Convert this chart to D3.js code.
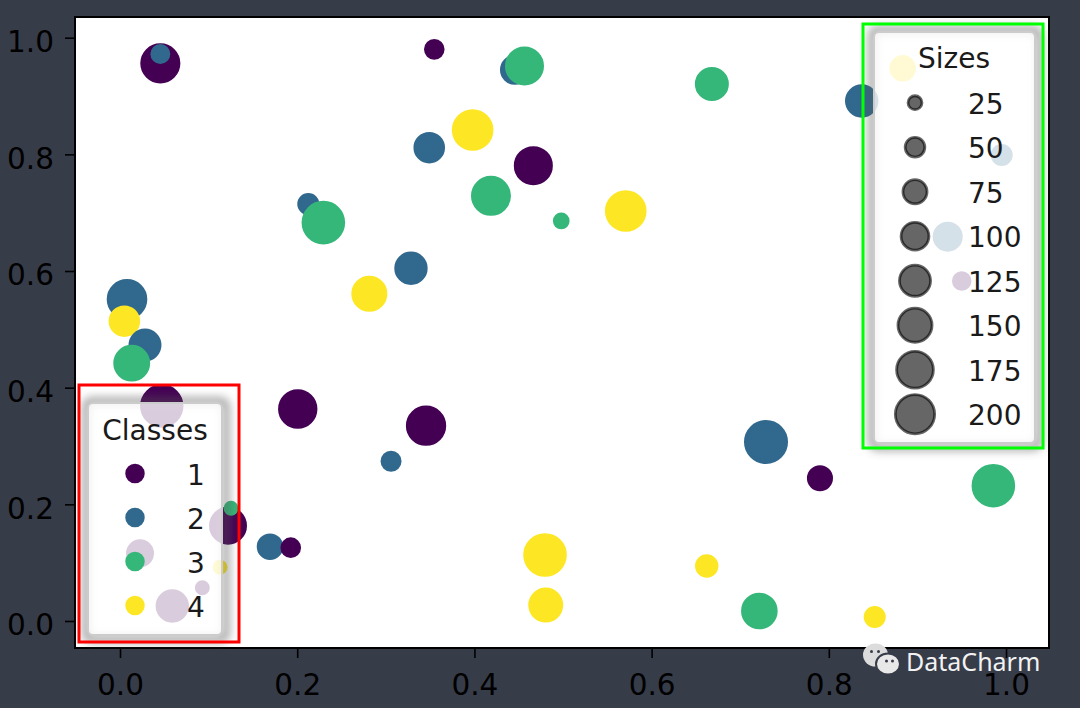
<!DOCTYPE html>
<html>
<head>
<meta charset="utf-8">
<script src="https://cdn.jsdelivr.net/npm/d3@7"></script>
<style>
  html, body { margin: 0; padding: 0; background: #373c49; }
  svg { display: block; }
  .tick text { font-family: "DejaVu Sans", sans-serif; font-size: 29.5px; fill: #000; }
  .legend text { font-family: "DejaVu Sans", sans-serif; font-size: 28px; fill: #1a1a1a; }
</style>
</head>
<body>
<div id="chart"></div>
<script>
// point data
var xValues = [0.0455, 0.0455, 0.2125, 0.2295, 0.0079, 0.0049, 0.0282, 0.0132, 0.2814, 0.3547,
               0.4458, 0.4565, 0.668, 0.398, 0.349, 0.4665, 0.4187, 0.498, 0.5708, 0.3284,
               0.8834, 0.8371, 0.9951, 0.9342, 0.950, 0.7291, 0.790, 0.9857, 0.7216, 0.8518,
               0.3454, 0.3059, 0.4797, 0.4805, 0.6622, 0.0471, 0.2006, 0.0226, 0.1219, 0.1253,
               0.1693, 0.1927, 0.1129, 0.0929, 0.059];
var yValues = [0.956, 0.972, 0.715, 0.683, 0.5515, 0.514, 0.473, 0.442, 0.561, 0.980,
               0.945, 0.9515, 0.9206, 0.8418, 0.8114, 0.7806, 0.729, 0.6858, 0.703, 0.6047,
               0.9475, 0.8915, 0.799, 0.6588, 0.5829, 0.3069, 0.2446, 0.232, 0.0171, 0.0069,
               0.3348, 0.2738, 0.1131, 0.0274, 0.0943, 0.3686, 0.3635, 0.1161, 0.1634, 0.1932,
               0.1274, 0.1257, 0.0921, 0.0571, 0.0257];
var classValues = [1, 2, 2, 3, 2, 4, 2, 3, 4, 1,
                   2, 3, 3, 4, 2, 1, 3, 3, 4, 2,
                   4, 2, 2, 2, 1, 2, 1, 3, 3, 4,
                   1, 2, 4, 4, 4, 1, 1, 1, 1, 3,
                   2, 1, 4, 1, 1];
var sizeValues = [180, 38, 48, 215, 185, 107, 118, 150, 143, 41,
                  96, 170, 126, 195, 107, 170, 179, 25, 195, 121,
                  73, 121, 48, 96, 36, 220, 70, 215, 148, 48,
                  182, 43, 215, 134, 55, 213, 173, 82, 160, 19,
                  73, 41, 19, 19, 121];

var classLabels = [1, 2, 3, 4];
var sizeLabels = [25, 50, 75, 100, 125, 150, 175, 200];
var xTicks = [0.0, 0.2, 0.4, 0.6, 0.8, 1.0];
var yTicks = [0.0, 0.2, 0.4, 0.6, 0.8, 1.0];

var svgWidth = 1080;
var svgHeight = 708;
var plot = { left: 75, top: 17, right: 1049, bottom: 648 };

var svg = d3.select("#chart").append("svg")
  .attr("width", svgWidth)
  .attr("height", svgHeight);

var defs = svg.append("defs");
defs.append("clipPath").attr("id", "plotClip")
  .append("rect")
  .attr("x", plot.left).attr("y", plot.top)
  .attr("width", plot.right - plot.left).attr("height", plot.bottom - plot.top);
defs.append("filter").attr("id", "shadow")
  .attr("x", "-20%").attr("y", "-20%").attr("width", "140%").attr("height", "140%")
  .append("feGaussianBlur").attr("stdDeviation", 4);

svg.append("rect")
  .attr("width", svgWidth).attr("height", svgHeight)
  .attr("fill", "#373c49");

svg.append("rect")
  .attr("x", plot.left).attr("y", plot.top)
  .attr("width", plot.right - plot.left).attr("height", plot.bottom - plot.top)
  .attr("fill", "#fff");

// scales
var xScale = d3.scaleLinear().domain([-0.0508, 1.0485]).range([plot.left, plot.right]);
var yScale = d3.scaleLinear().domain([-0.0463, 1.0355]).range([plot.bottom, plot.top]);
var rScale = d3.scaleSqrt().domain([0, 200]).range([0, 19.66]);
var colorScale = d3.scaleSequential(d3.interpolateViridis).domain([1, 4]);

// points
var points = d3.range(xValues.length).map(function(i) {
  return { x: xValues[i], y: yValues[i], c: classValues[i], s: sizeValues[i] };
});

svg.append("g").attr("clip-path", "url(#plotClip)")
  .selectAll("circle")
  .data(points)
  .enter()
  .append("circle")
  .attr("cx", d => xScale(d.x))
  .attr("cy", d => yScale(d.y))
  .attr("r", d => rScale(d.s))
  .attr("fill", d => colorScale(d.c))
  .attr("stroke", d => colorScale(d.c))
  .attr("stroke-width", 2.8);

// axes
var bottomAxis = d3.axisBottom(xScale).tickValues(xTicks).tickFormat(d3.format(".1f"))
  .tickSizeInner(10).tickSizeOuter(0).tickPadding(10);
var leftAxis = d3.axisLeft(yScale).tickValues(yTicks).tickFormat(d3.format(".1f"))
  .tickSizeInner(10).tickSizeOuter(0).tickPadding(11);

var gx = svg.append("g").attr("transform", `translate(0, ${plot.bottom})`).call(bottomAxis);
var gy = svg.append("g").attr("transform", `translate(${plot.left}, 0)`).call(leftAxis);
[gx, gy].forEach(function(g) {
  g.select(".domain").remove();
  g.selectAll(".tick line").attr("stroke", "#000").attr("stroke-width", 1.6);
});
gx.selectAll(".tick text").attr("dy", "0.92em");
gy.selectAll(".tick text").attr("dy", "0.47em");

// frame
svg.append("rect")
  .attr("x", plot.left).attr("y", plot.top)
  .attr("width", plot.right - plot.left).attr("height", plot.bottom - plot.top)
  .attr("fill", "none").attr("stroke", "#000").attr("stroke-width", 2);

// legend box helper
function legendBox(x0, y0, x1, y1) {
  var g = svg.append("g").attr("class", "legend");
  g.append("rect")
    .attr("x", x0 - 2).attr("y", y0 - 2)
    .attr("width", x1 - x0 + 6).attr("height", y1 - y0 + 6)
    .attr("rx", 5)
    .attr("fill", "none").attr("stroke", "#555").attr("stroke-opacity", 0.5)
    .attr("stroke-width", 8)
    .attr("filter", "url(#shadow)");
  g.append("rect")
    .attr("x", x0).attr("y", y0)
    .attr("width", x1 - x0).attr("height", y1 - y0)
    .attr("rx", 5)
    .attr("fill", "#fff").attr("fill-opacity", 0.8)
    .attr("stroke", "#ccc").attr("stroke-width", 2);
  return g;
}

// Classes legend
var lg1 = legendBox(88, 403, 222, 635);
lg1.append("text").attr("x", 155).attr("y", 440).attr("text-anchor", "middle").text("Classes");
var classRows = lg1.selectAll(".row").data(classLabels).enter().append("g")
  .attr("transform", (d, i) => `translate(0, ${473.5 + i * 44})`);
classRows.append("circle")
  .attr("cx", 135).attr("cy", 0).attr("r", rScale(36))
  .attr("fill", d => colorScale(d))
  .attr("stroke", d => colorScale(d)).attr("stroke-width", 2.8);
classRows.append("text").attr("x", 187).attr("y", 11).text(d => d);

// Sizes legend
var lg2 = legendBox(874, 32, 1035, 443);
lg2.append("text").attr("x", 954).attr("y", 68).attr("text-anchor", "middle").text("Sizes");
var sizeRows = lg2.selectAll(".row").data(sizeLabels).enter().append("g")
  .attr("transform", (d, i) => `translate(0, ${102.7 + i * 44.5})`);
sizeRows.append("circle")
  .attr("cx", 915).attr("cy", 0).attr("r", d => rScale(d))
  .attr("fill", "#000").attr("fill-opacity", 0.6)
  .attr("stroke", "#000").attr("stroke-opacity", 0.6).attr("stroke-width", 2.8);
sizeRows.append("text").attr("x", 968).attr("y", 11).text(d => d);

// highlight boxes
svg.append("rect")
  .attr("x", 79).attr("y", 385).attr("width", 160).attr("height", 257)
  .attr("fill", "none").attr("stroke", "#ff0000").attr("stroke-width", 3);
svg.append("rect")
  .attr("x", 863).attr("y", 24).attr("width", 180).attr("height", 424)
  .attr("fill", "none").attr("stroke", "#00ff00").attr("stroke-width", 3);

// watermark
var wm = svg.append("g");
wm.append("ellipse").attr("cx", 875.5).attr("cy", 655).attr("rx", 12.5).attr("ry", 11.5).attr("fill", "#dcdcdc");
wm.append("ellipse").attr("cx", 888).attr("cy", 664).attr("rx", 12).attr("ry", 10.5)
  .attr("fill", "#e8e8e8").attr("stroke", "#373c49").attr("stroke-width", 2);
[[871.5, 651.5], [878.5, 651.5], [886.5, 661], [892.5, 661]].forEach(function(p) {
  wm.append("circle").attr("cx", p[0]).attr("cy", p[1]).attr("r", 1.5).attr("fill", "#373c49");
});
wm.append("text").attr("x", 906).attr("y", 671)
  .attr("font-family", "Noto Sans, sans-serif").attr("font-size", 25)
  .attr("fill", "#f2f2f2").text("DataCharm");
</script>
</body>
</html>
